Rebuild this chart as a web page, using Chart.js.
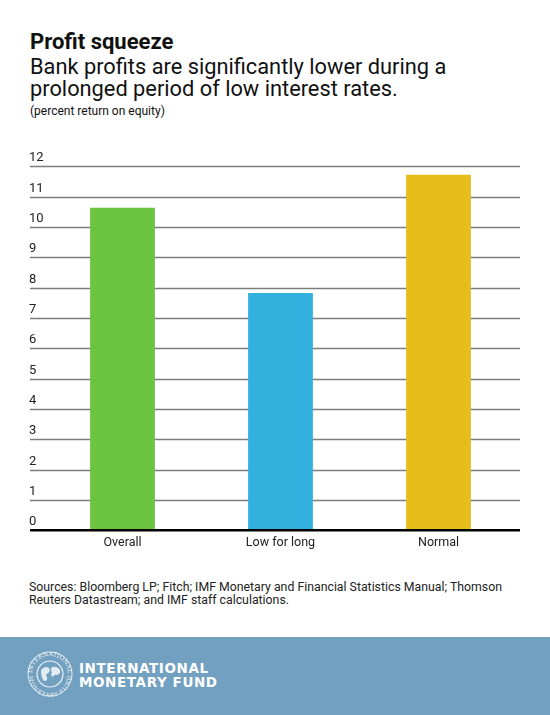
<!DOCTYPE html>
<html>
<head>
<meta charset="utf-8">
<script src="https://cdn.jsdelivr.net/npm/chart.js@4.4.1/dist/chart.umd.min.js"></script>
<style>
  html, body { margin: 0; padding: 0; background: #fff; }
  body { width: 550px; height: 715px; position: relative; overflow: hidden; font-family: Roboto, "Noto Sans", sans-serif; color: #111; }
  .titulo { position: absolute; left: 30px; top: 29px; font-size: 22px; font-weight: 700; line-height: 26px; }
  .subtitulo { position: absolute; left: 30px; top: 56px; font-size: 21.8px; line-height: 21.5px; }
  .unidad { position: absolute; left: 30px; top: 104px; font-size: 12px; }
  #wrap { position: absolute; left: 0; top: 140px; width: 550px; height: 420px; }
  .fuentes { position: absolute; left: 29px; top: 581px; width: 500px; font-size: 12.3px; line-height: 13.4px; color: #222; }
  .pie { position: absolute; left: 0; top: 637px; width: 550px; height: 78px; background: #72a0c0; }
  .pie svg { position: absolute; left: 26px; top: 12px; }
  .pie .nombre { position: absolute; left: 79px; top: 25px; color: #fff; font-family: "DejaVu Sans", sans-serif; font-weight: 700; font-size: 13.5px; line-height: 13.8px; letter-spacing: 0.6px; }
</style>
</head>
<body>
<div class="titulo">Profit squeeze</div>
<div class="subtitulo">Bank profits are significantly lower during a<br>prolonged period of low interest rates.</div>
<div class="unidad">(percent return on equity)</div>
<div id="wrap"><canvas id="grafico"></canvas></div>
<div class="fuentes">Sources: Bloomberg LP; Fitch; IMF Monetary and Financial Statistics Manual; Thomson Reuters Datastream; and IMF staff calculations.</div>
<div class="pie">
  <svg width="48" height="50" viewBox="0 0 48 50">
    <defs>
      <path id="arcoSup" d="M6 25 A18 18 0 0 1 42 25"/>
      <path id="arcoInf" d="M7 27 A17 17 0 0 0 41 27"/>
    </defs>
    <circle cx="24" cy="25" r="22" fill="none" stroke="#fff" stroke-width="1" opacity="0.8"/>
    <circle cx="24" cy="25" r="13" fill="none" stroke="#fff" stroke-width="1.2" opacity="0.85"/>
    <path d="M15 21 q4 -5 8 -2 q2 3 -1 5 q-3 1 -1 4 q1 4 -3 4 q-3 -3 -3 -11z M26 18 q5 -1 8 3 q1 4 -3 5 q-3 -1 -4 2 q-3 -2 -1 -5 q-2 -2 0 -5z" fill="#fff" opacity="0.8"/>
    <text font-size="6" fill="#fff" font-family="DejaVu Serif" opacity="0.9"><textPath href="#arcoSup" startOffset="50%" text-anchor="middle">INTERNATIONAL</textPath></text>
    <text font-size="5.5" fill="#fff" font-family="DejaVu Serif" opacity="0.9"><textPath href="#arcoInf" startOffset="50%" text-anchor="middle" dominant-baseline="hanging">MONETARY FUND</textPath></text>
  </svg>
  <div class="nombre">INTERNATIONAL<br>MONETARY FUND</div>
</div>
<script>
const CATEGORIAS = ["Overall", "Low for long", "Normal"];
const VALORES = [10.63, 7.82, 11.72];
const COLORES = ["#6cc440", "#32b0de", "#e5be1a"];
const Y_MIN = 0;
const Y_MAX = 12;
const Y_PASO = 1;

const COLOR_GRILLA = "#7d7d7d";
const COLOR_TEXTO = "#222";

// lineas de grilla y etiquetas del eje y, un poco mas anchas que el area
const grillaPlugin = {
  id: "grilla",
  beforeDatasetsDraw(chart) {
    const ctx = chart.ctx;
    const y = chart.scales.y;
    ctx.save();
    y.ticks.forEach((t) => {
      const py = Math.round(y.getPixelForValue(t.value)) + 0.5;
      if (t.value !== 0) {
        ctx.strokeStyle = COLOR_GRILLA;
        ctx.lineWidth = 1.3;
        ctx.beginPath();
        ctx.moveTo(30, py);
        ctx.lineTo(520, py);
        ctx.stroke();
      }
      ctx.fillStyle = COLOR_TEXTO;
      ctx.font = "13px Roboto";
      ctx.textAlign = "left";
      ctx.textBaseline = "middle";
      ctx.fillText(String(t.value), 29, py - 9);
    });
    ctx.restore();
  },
  afterDatasetsDraw(chart) {
    const ctx = chart.ctx;
    const py = chart.scales.y.getPixelForValue(0);
    ctx.save();
    ctx.strokeStyle = "#000";
    ctx.lineWidth = 2.5;
    ctx.beginPath();
    ctx.moveTo(30, py);
    ctx.lineTo(520, py);
    ctx.stroke();
    ctx.restore();
  },
};

new Chart(document.getElementById("grafico"), {
  type: "bar",
  data: {
    labels: CATEGORIAS,
    datasets: [{
      data: VALORES,
      backgroundColor: COLORES,
      categoryPercentage: 1,
      barPercentage: 0.41,
    }],
  },
  options: {
    responsive: true,
    maintainAspectRatio: false,
    animation: false,
    layout: { padding: { left: 0, right: 32.5, top: 26.3, bottom: 0 } },
    plugins: { legend: { display: false }, tooltip: { enabled: false } },
    scales: {
      x: {
        grid: { display: false, drawTicks: false },
        border: { display: false },
        ticks: { color: COLOR_TEXTO, font: { family: "Roboto", size: 12.5 }, padding: 5 },
        afterFit: (s) => { s.height = 29.7; },
      },
      y: {
        min: Y_MIN,
        max: Y_MAX,
        grid: { display: false, drawTicks: false },
        border: { display: false },
        ticks: { display: false, stepSize: Y_PASO },
        afterFit: (s) => { s.width = 43.5; },
      },
    },
  },
  plugins: [grillaPlugin],
});
</script>
</body>
</html>
